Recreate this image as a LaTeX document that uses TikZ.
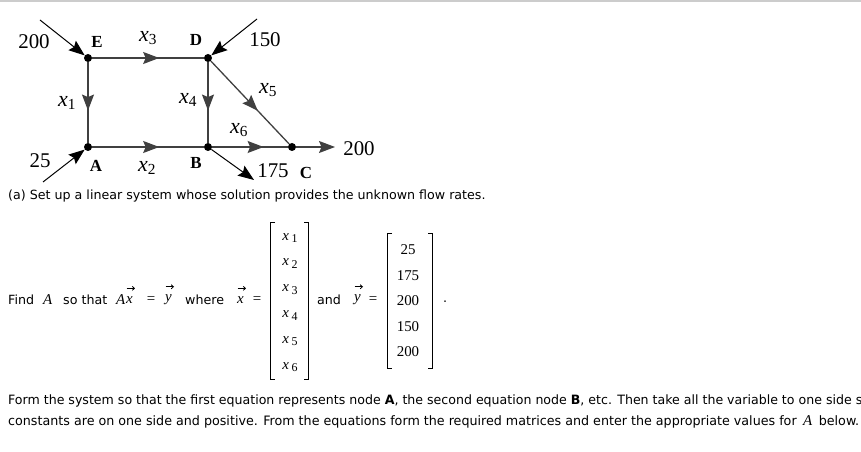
\documentclass[tikz,border=0pt]{standalone}
\usepackage{fontspec}
\setmainfont{Liberation Serif}
\newfontfamily\webfont{DejaVu Sans}
\newfontfamily\webnarrow[FakeStretch=0.98]{DejaVu Sans}
\usetikzlibrary{arrows.meta, decorations.markings}
\newcommand{\xsub}[1]{\textit{x}\,\raisebox{-2.5bp}{\fontsize{12}{12}\selectfont #1}}
\tikzset{junction/.style={circle,fill,minimum size=8bp,inner sep=0pt},
         flow/.style={draw=black!75,line width=1.3bp},
         feed/.style={draw=black,line width=1bp,-{Stealth[length=16bp,width=12bp,inset=2.5bp]}},
         midarrow/.style={postaction={decorate},decoration={markings,mark=at position #1 with {\arrow{Stealth[length=16bp,width=12bp,inset=2.5bp]}}}},
         numlabel/.style={font=\fontsize{21}{21}\selectfont,inner sep=0pt},
         nodename/.style={font=\bfseries\fontsize{17}{17}\selectfont,inner sep=0pt},
         varlabel/.style={font=\itshape\fontsize{22}{22}\selectfont,inner sep=0pt},
         webtext/.style={font=\webfont\fontsize{12.7}{13}\selectfont,inner sep=0pt,anchor=west},
         webline/.style={font=\webnarrow\fontsize{13}{13}\selectfont,inner sep=0pt,anchor=west},
         mathtext/.style={font=\fontsize{15}{15}\selectfont,inner sep=0pt},
         mathvar/.style={font=\itshape\fontsize{15}{15}\selectfont,inner sep=0pt,anchor=west},
         vecarrow/.style={draw=black,line width=0.8bp,-{Straight Barb[length=2.2bp,width=4bp]}},
         entry/.style={font=\fontsize{15}{15}\selectfont,inner sep=0pt},
         bracket/.style={draw=black,line width=0.9bp},
        }

\begin{document}
\begin{tikzpicture}[x=1bp,y=-1bp]
        \useasboundingbox (0,0) rectangle (861,452);
        \clip (0,0) rectangle (861,452);
        \draw[black!20,line width=1.2bp] (0,1) -- (861,1);

        \node[junction](E)at(88,58){};
        \node[junction](D)at(208,58){};
        \node[junction](A)at(88,147){};
        \node[junction](B)at(208,147){};
        \node[junction](C)at(292,147){};

        \draw[flow,midarrow=0.6](E)--(D);
        \draw[flow,midarrow=0.6](E)--(A);
        \draw[flow,midarrow=0.6](D)--(B);
        \draw[flow,midarrow=0.6](A)--(B);
        \draw[flow,midarrow=0.68](B)--(C);
        \draw[flow,midarrow=0.6](D)--(C);

        \coordinate(inE)at(40,20);
        \coordinate(inD)at(257,19);
        \coordinate(inA)at(43,182);
        \coordinate(outC)at(335,147);
        \coordinate(outB)at(254,180);
        \draw[feed](inE)--(E);
        \draw[feed](inD)--(D);
        \draw[feed](inA)--(A);
        \draw[feed,draw=black!75,line width=1.3bp](C)--(outC);
        \draw[feed](B)--(outB);

        \node[numlabel](fE)at(34,42){200};
        \node[numlabel](fD)at(265,40){150};
        \node[numlabel](fA)at(40,161){25};
        \node[numlabel](fC)at(359,149){200};
        \node[numlabel](fB)at(273,171){175};
        \node[nodename](lE)at(97,42){E};
        \node[nodename](lD)at(196,40){D};
        \node[nodename](lA)at(96,166){A};
        \node[nodename](lB)at(196,163){B};
        \node[nodename](lC)at(306,173){C};
        \node[varlabel](v1)at(67,103){x\textsubscript{\upshape 1}};
        \node[varlabel](v2)at(147,168){x\textsubscript{\upshape 2}};
        \node[varlabel](v3)at(148,38){x\textsubscript{\upshape 3}};
        \node[varlabel](v4)at(188,100){x\textsubscript{\upshape 4}};
        \node[varlabel](v5)at(268,90){x\textsubscript{\upshape 5}};
        \node[varlabel](v6)at(239,130){x\textsubscript{\upshape 6}};

        \node[webtext](parta)at(8,196){(a) Set up a linear system whose solution provides the unknown flow rates.};

        % Find A so that A x = y
        \node[webtext](find)at(8,300){Find};
        \node[mathvar](mA)at(43,300){A};
        \node[webtext](sothat)at(63,300){so that};
        \node[mathvar](mA2)at(116,300){A};
        \node[mathvar](xv1)at(126,300){x};
        \node[mathtext](eqa)at(151,300){=};
        \node[mathvar](yv1)at(165,300){y};
        \node[webtext](where)at(185,300){where};
        \node[mathvar](xv2)at(237,300){x};
        \node[mathtext](eqb)at(257,300){=};
        \node[webtext](and)at(317,300){and};
        \node[mathvar](yv2)at(354,300){y};
        \node[mathtext](eqc)at(373,300){=};
        \node[webtext](stop)at(443,302){.};
        \foreach \n in {xv1,yv1,xv2,yv2}
            \draw[vecarrow]([shift={(0.5bp,8bp)}]\n.north west)--([shift={(2bp,8bp)}]\n.north east);

        \draw[bracket](275,222)--(270.5,222)--(270.5,379)--(275,379);
        \draw[bracket](304,222)--(308.5,222)--(308.5,379)--(304,379);
        \foreach \i in {1,...,6}
            \node[entry](xe\i)at(290,{238+25.8*(\i-1)}){\xsub{\i}};
        \draw[bracket](392,233)--(387.5,233)--(387.5,368)--(392,368);
        \draw[bracket](428,233)--(432.5,233)--(432.5,368)--(428,368);
        \foreach \v [count=\i] in {25,175,200,150,200}
            \node[entry](ye\i)at(408,{250+25.5*(\i-1)}){\v};

        \node[webline,font=\webnarrow\fontsize{12.88}{13}\selectfont](form1)at(8,401){Form the system so that the first equation represents node \textbf{A}, the second equation node \textbf{B}, etc. Then take all the variable to one side s};
        \node[webline](form2)at(8,422){constants are on one side and positive. From the equations form the required matrices and enter the appropriate values for {\rmfamily\itshape\fontsize{15}{15}\selectfont\,A\,} below.};
    \end{tikzpicture}
\end{document}
